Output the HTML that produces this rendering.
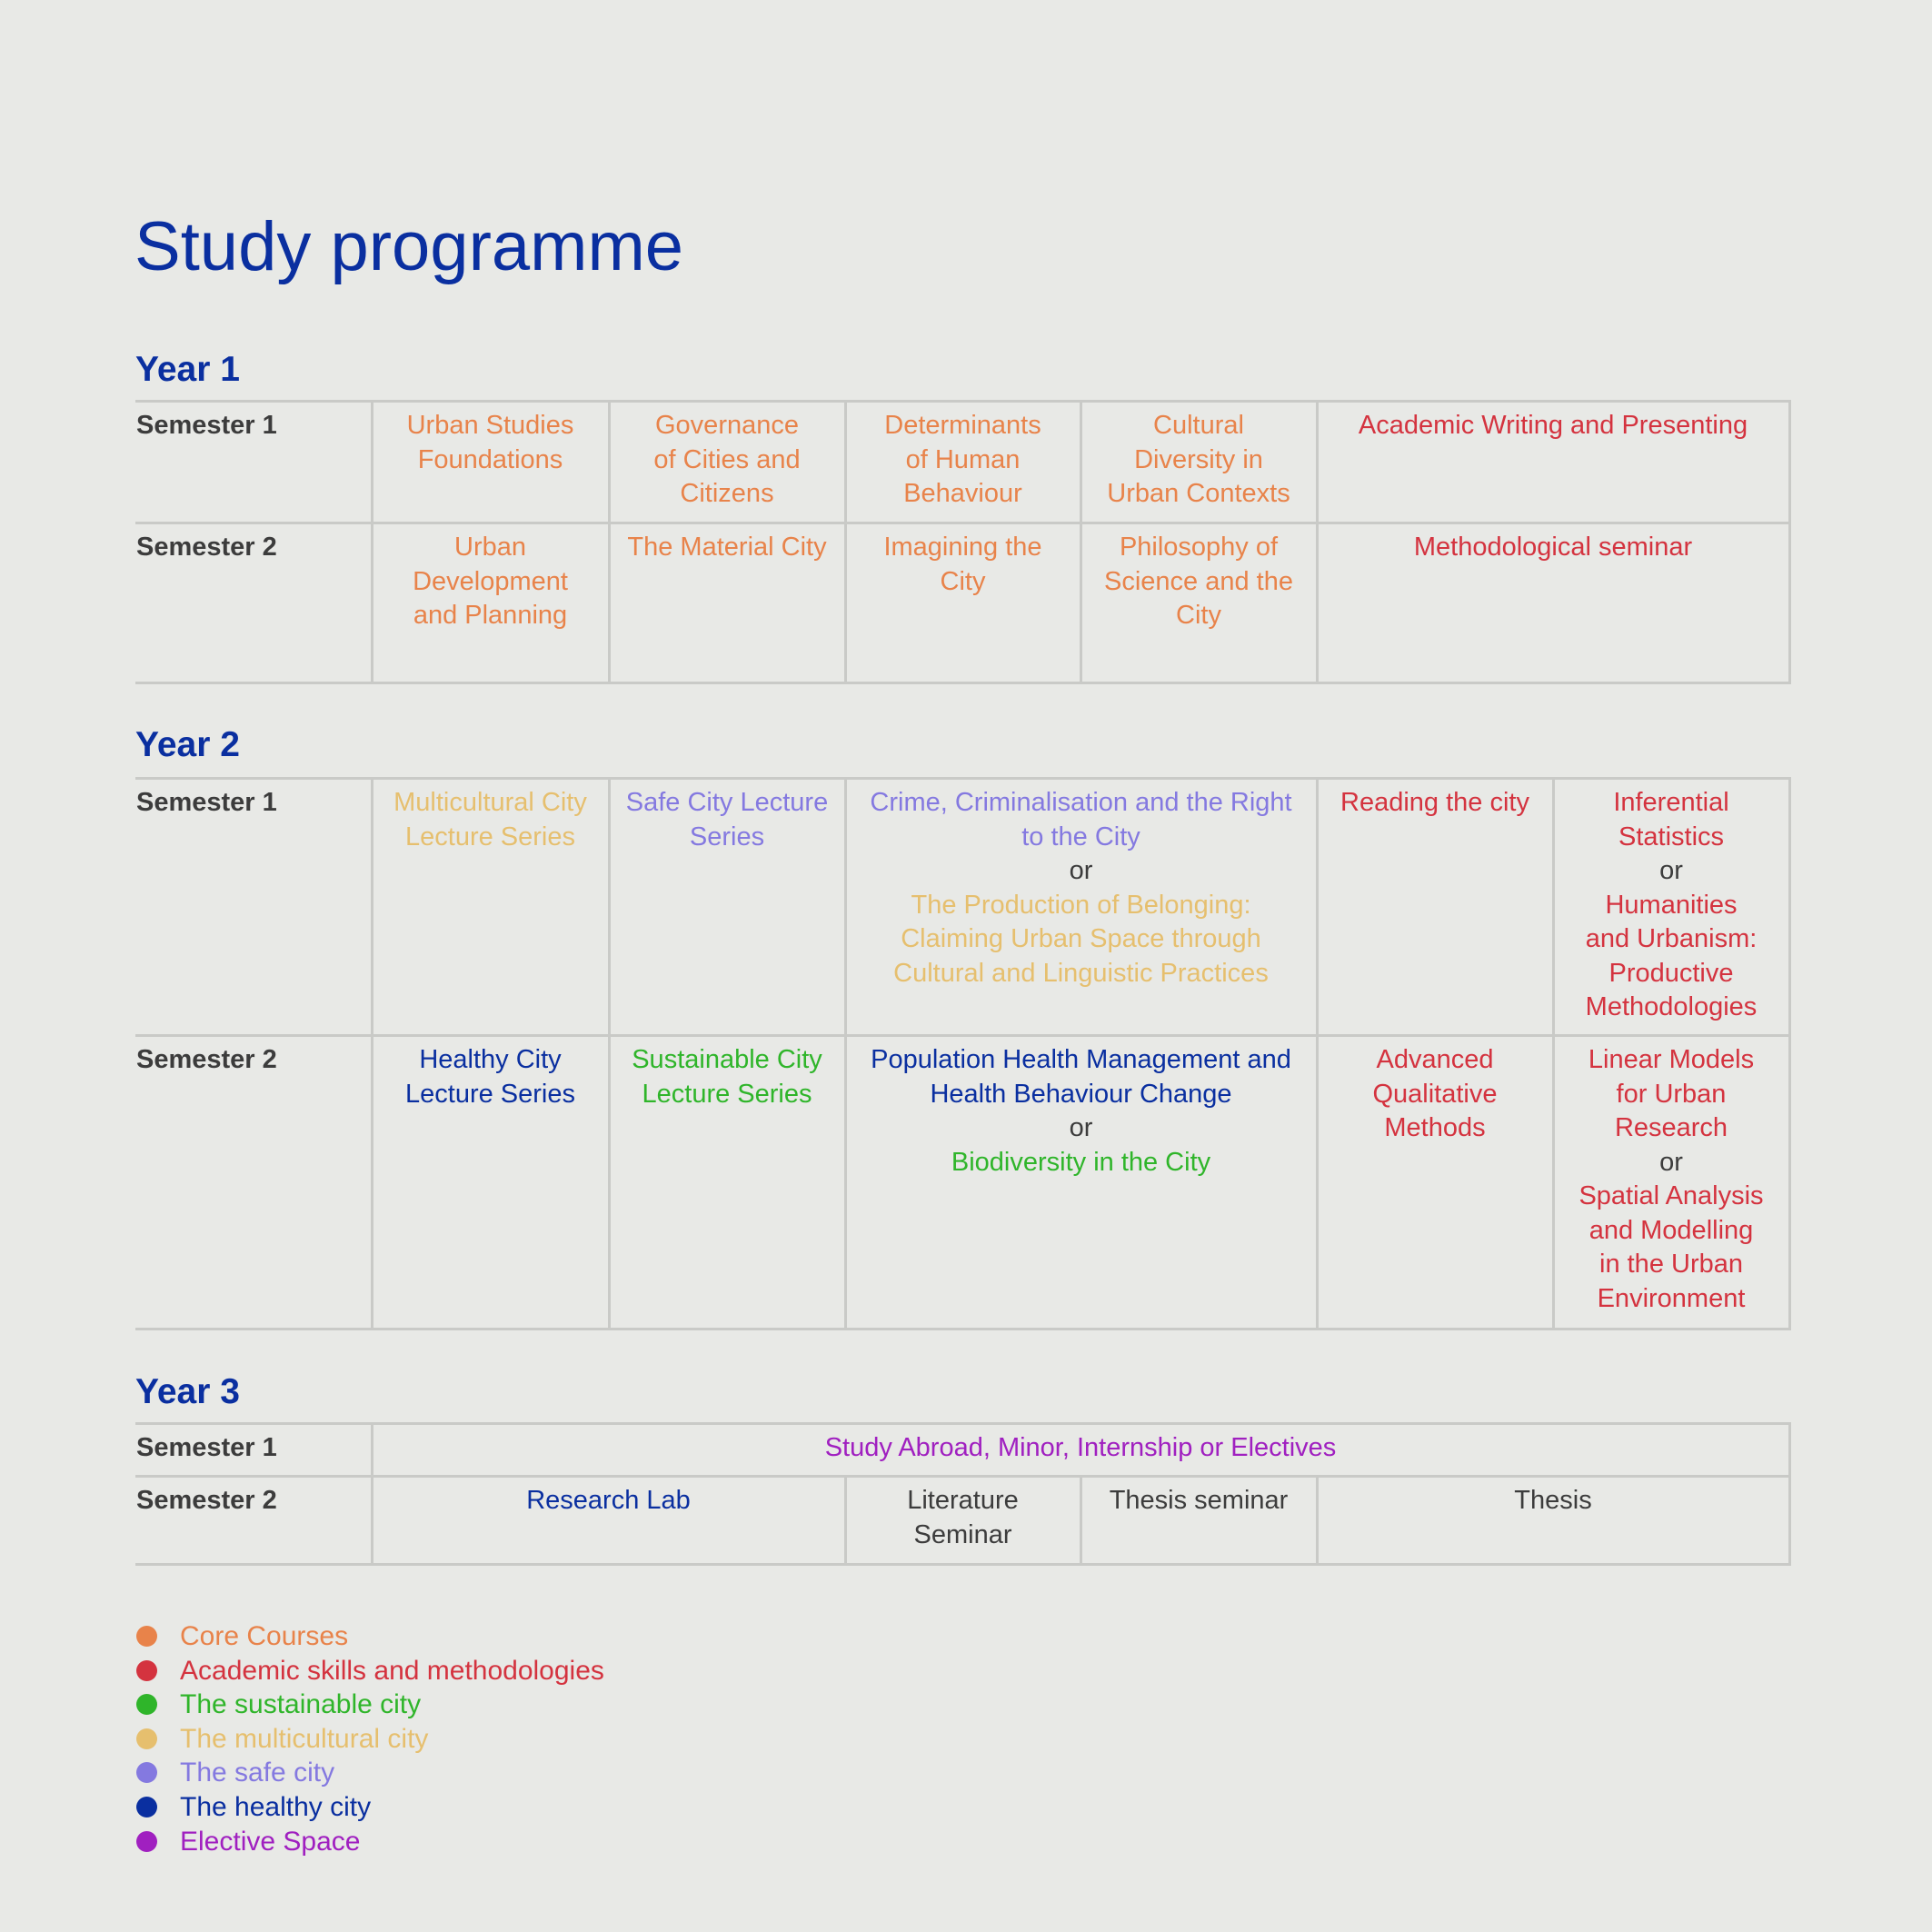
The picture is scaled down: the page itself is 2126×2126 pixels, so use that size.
<!DOCTYPE html>
<html><head><meta charset="utf-8"><style>
html,body{margin:0;padding:0}
body{width:2126px;height:2126px;background:#e8e9e6;position:relative;overflow:hidden;font-family:"Liberation Sans",sans-serif}
.a{position:absolute}
.h{background:#c9cac7;height:3px}
.v{background:#c9cac7;width:3px}
.c{position:absolute;text-align:center;font-size:29px;line-height:37.5px;white-space:nowrap}
.s{position:absolute;left:150px;font-size:29px;font-weight:bold;color:#3c3c3c;line-height:37.5px}
.y{position:absolute;left:149px;font-size:39px;font-weight:bold;color:#0a2fa0;line-height:46px}
.o{color:#e8834a}.r{color:#d4333f}.g{color:#2fb52a}.m{color:#e6bf6e}.l{color:#8479e0}.n{color:#0a2fa0}.p{color:#a020c0}.k{color:#3c3c3c}
.leg{position:absolute;left:198px;font-size:30px;line-height:37.6px}
.dot{position:absolute;left:150px;width:23px;height:23px;border-radius:50%}
</style></head><body>
<div class="a" style="left:148px;top:228px;font-size:76px;line-height:88px;color:#0a2fa0">Study programme</div>

<!-- Year 1 -->
<div class="y" style="top:384px">Year 1</div>
<div class="a h" style="left:149px;width:1821px;top:440px"></div>
<div class="a h" style="left:149px;width:1821px;top:574px"></div>
<div class="a h" style="left:149px;width:1821px;top:750px"></div>
<div class="a v" style="left:408px;top:440px;height:313px"></div>
<div class="a v" style="left:669px;top:440px;height:313px"></div>
<div class="a v" style="left:929px;top:440px;height:313px"></div>
<div class="a v" style="left:1188px;top:440px;height:313px"></div>
<div class="a v" style="left:1448px;top:440px;height:313px"></div>
<div class="a v" style="left:1968px;top:440px;height:313px"></div>
<div class="s" style="top:450px">Semester 1</div>
<div class="s" style="top:584px">Semester 2</div>
<div class="c o" style="left:410px;width:259px;top:450px">Urban Studies<br>Foundations</div>
<div class="c o" style="left:671px;width:258px;top:450px">Governance<br>of Cities and<br>Citizens</div>
<div class="c o" style="left:931px;width:257px;top:450px">Determinants<br>of Human<br>Behaviour</div>
<div class="c o" style="left:1190px;width:258px;top:450px">Cultural<br>Diversity in<br>Urban Contexts</div>
<div class="c r" style="left:1450px;width:518px;top:450px">Academic Writing and Presenting</div>
<div class="c o" style="left:410px;width:259px;top:584px">Urban<br>Development<br>and Planning</div>
<div class="c o" style="left:671px;width:258px;top:584px">The Material City</div>
<div class="c o" style="left:931px;width:257px;top:584px">Imagining the<br>City</div>
<div class="c o" style="left:1190px;width:258px;top:584px">Philosophy of<br>Science and the<br>City</div>
<div class="c r" style="left:1450px;width:518px;top:584px">Methodological seminar</div>

<!-- Year 2 -->
<div class="y" style="top:797px">Year 2</div>
<div class="a h" style="left:149px;width:1821px;top:855px"></div>
<div class="a h" style="left:149px;width:1821px;top:1138px"></div>
<div class="a h" style="left:149px;width:1821px;top:1461px"></div>
<div class="a v" style="left:408px;top:855px;height:609px"></div>
<div class="a v" style="left:669px;top:855px;height:609px"></div>
<div class="a v" style="left:929px;top:855px;height:609px"></div>
<div class="a v" style="left:1448px;top:855px;height:609px"></div>
<div class="a v" style="left:1708px;top:855px;height:609px"></div>
<div class="a v" style="left:1968px;top:855px;height:609px"></div>
<div class="s" style="top:865px">Semester 1</div>
<div class="s" style="top:1148px">Semester 2</div>
<div class="c m" style="left:410px;width:259px;top:865px">Multicultural City<br>Lecture Series</div>
<div class="c l" style="left:671px;width:258px;top:865px">Safe City Lecture<br>Series</div>
<div class="c" style="left:931px;width:517px;top:865px"><span class="l">Crime, Criminalisation and the Right<br>to the City</span><br><span class="k">or</span><br><span class="m">The Production of Belonging:<br>Claiming Urban Space through<br>Cultural and Linguistic Practices</span></div>
<div class="c r" style="left:1450px;width:258px;top:865px">Reading the city</div>
<div class="c" style="left:1710px;width:258px;top:865px"><span class="r">Inferential<br>Statistics</span><br><span class="k">or</span><br><span class="r">Humanities<br>and Urbanism:<br>Productive<br>Methodologies</span></div>
<div class="c n" style="left:410px;width:259px;top:1148px">Healthy City<br>Lecture Series</div>
<div class="c g" style="left:671px;width:258px;top:1148px">Sustainable City<br>Lecture Series</div>
<div class="c" style="left:931px;width:517px;top:1148px"><span class="n">Population Health Management and<br>Health Behaviour Change</span><br><span class="k">or</span><br><span class="g">Biodiversity in the City</span></div>
<div class="c r" style="left:1450px;width:258px;top:1148px">Advanced<br>Qualitative<br>Methods</div>
<div class="c" style="left:1710px;width:258px;top:1148px"><span class="r">Linear Models<br>for Urban<br>Research</span><br><span class="k">or</span><br><span class="r">Spatial Analysis<br>and Modelling<br>in the Urban<br>Environment</span></div>

<!-- Year 3 -->
<div class="y" style="top:1509px">Year 3</div>
<div class="a h" style="left:149px;width:1821px;top:1565px"></div>
<div class="a h" style="left:149px;width:1821px;top:1623px"></div>
<div class="a h" style="left:149px;width:1821px;top:1720px"></div>
<div class="a v" style="left:408px;top:1565px;height:158px"></div>
<div class="a v" style="left:929px;top:1623px;height:100px"></div>
<div class="a v" style="left:1188px;top:1623px;height:100px"></div>
<div class="a v" style="left:1448px;top:1623px;height:100px"></div>
<div class="a v" style="left:1968px;top:1565px;height:158px"></div>
<div class="s" style="top:1575px">Semester 1</div>
<div class="s" style="top:1633px">Semester 2</div>
<div class="c p" style="left:410px;width:1558px;top:1575px">Study Abroad, Minor, Internship or Electives</div>
<div class="c n" style="left:410px;width:519px;top:1633px">Research Lab</div>
<div class="c k" style="left:931px;width:257px;top:1633px">Literature<br>Seminar</div>
<div class="c k" style="left:1190px;width:258px;top:1633px">Thesis seminar</div>
<div class="c k" style="left:1450px;width:518px;top:1633px">Thesis</div>

<!-- Legend -->
<div class="dot" style="top:1789px;background:#e8834a"></div><div class="leg o" style="top:1782px">Core Courses</div>
<div class="dot" style="top:1827px;background:#d4333f"></div><div class="leg r" style="top:1820px">Academic skills and methodologies</div>
<div class="dot" style="top:1864px;background:#2fb52a"></div><div class="leg g" style="top:1857px">The sustainable city</div>
<div class="dot" style="top:1902px;background:#e6bf6e"></div><div class="leg m" style="top:1895px">The multicultural city</div>
<div class="dot" style="top:1939px;background:#8479e0"></div><div class="leg l" style="top:1932px">The safe city</div>
<div class="dot" style="top:1977px;background:#0a2fa0"></div><div class="leg n" style="top:1970px">The healthy city</div>
<div class="dot" style="top:2015px;background:#a020c0"></div><div class="leg p" style="top:2008px">Elective Space</div>
</body></html>
